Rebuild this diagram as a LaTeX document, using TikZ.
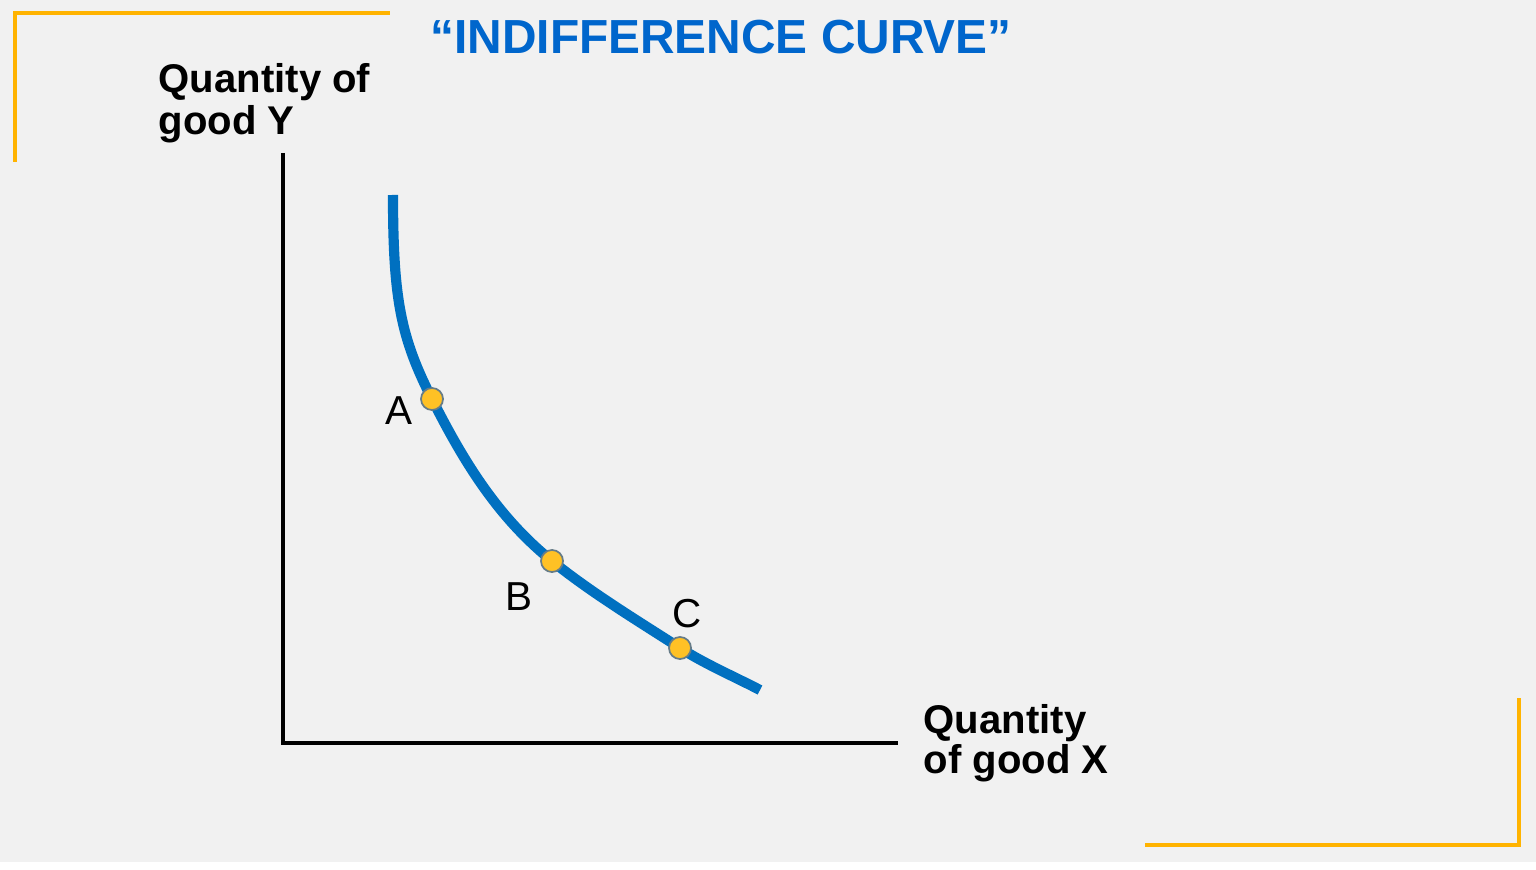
\documentclass[tikz,border=0pt]{standalone}
\usepackage{fontspec}
\setmainfont{Liberation Sans}
\usepackage{tikz}
\usetikzlibrary{positioning, calc}
\definecolor{slidebg}{HTML}{F1F1F1}
\definecolor{framegold}{HTML}{FFB300}
\definecolor{titleblue}{HTML}{0066CC}
\definecolor{curveblue}{HTML}{0070C0}
\definecolor{dotfill}{HTML}{FFC125}
\definecolor{dotedge}{HTML}{667C88}
\tikzset{
    framebar/.style={draw=framegold, line width=1.15pt, line cap=rect},
    axisline/.style={draw=black, line width=1.15pt},
    icurve/.style={draw=curveblue, line width=2.9pt},
    bundledot/.style={circle, draw=dotedge, fill=dotfill, line width=0.5pt, minimum size=0.22cm, inner sep=0pt},
    axislabel/.style={font=\fontsize{11.4pt}{11.9pt}\selectfont\bfseries, align=left, inner sep=0pt, anchor=north west},
    ptlabel/.style={font=\fontsize{11.5pt}{13pt}\selectfont},
}
\begin{document}
\begin{tikzpicture}[x=0.01cm, y=-0.01cm]
\useasboundingbox (0,0) rectangle (1536,870);
\fill[slidebg] (0,0) rectangle (1536,862);

\draw[framebar] (15,160) -- (15,13) -- (388,13);
\draw[framebar] (1147,845) -- (1519,845) -- (1519,700);

\node[font=\fontsize{13.6pt}{16pt}\selectfont\bfseries, text=titleblue] (title) at (721,37) {“INDIFFERENCE CURVE”};

\coordinate (origin) at (283,743);
\coordinate (ytop) at (283,153);
\coordinate (xend) at (898,743);
\draw[axisline] (ytop) -- (origin) -- (xend);

\node[axislabel] (ylab) at (158,63) {Quantity of\\good Y};
\node[axislabel, font=\fontsize{11.4pt}{11.4pt}\selectfont\bfseries] (xlab) at (923,704) {Quantity\\of good X};

\coordinate (ctop) at (393,195);
\coordinate (cend) at (760,690);
\coordinate (pA) at (432,399);
\coordinate (pB) at (552,561);
\coordinate (pC) at (680,648);
\draw[icurve] (ctop) .. controls (393,300) and (401,338) .. (pA)
    .. controls (463.5,461.3) and (497.4,516.9) .. (pB)
    .. controls (591,592.5) and (638,621) .. (pC)
    .. controls (705,664) and (733,676) .. (cend);

\node[bundledot] (ptA) at (pA) {};
\node[bundledot] (ptB) at (pB) {};
\node[bundledot] (ptC) at (pC) {};

\node[ptlabel] (labA) at (399,411) {A};
\node[ptlabel] (labB) at (519,597) {B};
\node[ptlabel] (labC) at (687,614) {C};
\end{tikzpicture}
\end{document}
